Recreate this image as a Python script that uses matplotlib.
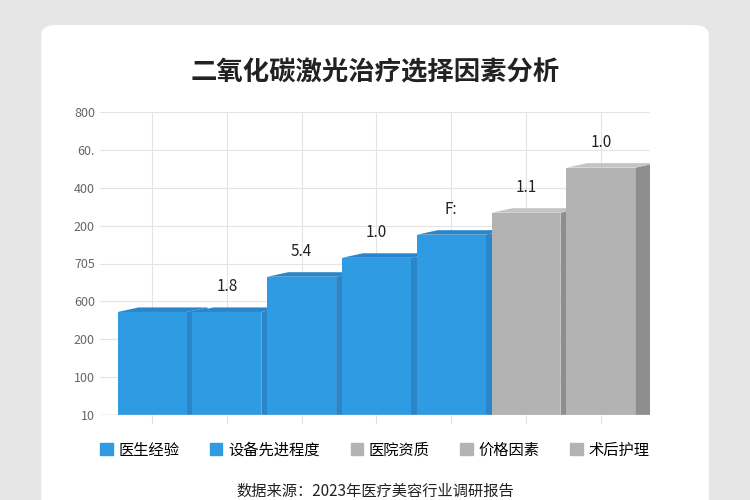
import numpy as np
import matplotlib.pyplot as plt
from matplotlib.patches import FancyBboxPatch, Polygon

plt.rcParams['font.family'] = ['Noto Sans CJK SC', 'DejaVu Sans']

# --- データ ---
values = [272, 272, 365, 415, 476, 534, 653]
labels = ['', '1.8', '5.4', '1.0', 'F:', '1.1', '1.0']
is_blue = [True, True, True, True, True, False, False]
yticks = [0, 100, 200, 300, 400, 500, 600, 700, 800]
ytick_labels = ['10', '100', '200', '600', '705', '200', '400', '60.', '800']
legend_names = ['医生经验', '设备先进程度', '医院资质', '价格因素', '术后护理']
legend_blue = [True, True, False, False, False]

blue, blue_side = '#2f9be3', '#2a86c8'
gray, gray_side = '#b3b3b3', '#8e8e8e'

fig = plt.figure(figsize=(7.5, 5), dpi=100)
fig.patch.set_facecolor('#e6e6e6')
card = FancyBboxPatch((0.055, -0.05), 0.89, 1.0, boxstyle='round,pad=0,rounding_size=0.02',
                      transform=fig.transFigure, facecolor='white', edgecolor='none',
                      zorder=-10)
fig.patches.append(card)
fig.text(0.5, 0.855, '二氧化碳激光治疗选择因素分析', ha='center', va='center',
         fontsize=19, fontweight='bold', color='#222222')

ax = fig.add_axes((0.133, 0.17, 0.733, 0.606))
ax.set_facecolor('none')
x = np.arange(len(values))
w = 0.92
dx, dy = 0.28, 12
for i, (v, b) in enumerate(zip(values, is_blue)):
    fc = blue if b else gray
    sc = blue_side if b else gray_side
    x0 = x[i] - w / 2
    x1 = x[i] + w / 2
    # 側面と上面
    ax.add_patch(Polygon([(x1, 0), (x1 + dx, 0), (x1 + dx, v + dy), (x1, v)],
                         facecolor=sc, edgecolor='none', zorder=2 + i))
    ax.add_patch(Polygon([(x0, v), (x0 + dx, v + dy), (x1 + dx, v + dy), (x1, v)],
                         facecolor=sc if b else '#c4c4c4', edgecolor='none', zorder=2 + i))
    ax.bar(x[i], v, width=w, color=fc, zorder=2 + i)
    if labels[i]:
        ax.text(x[i], v + 45, labels[i], ha='center', va='bottom', fontsize=11, color='#222222')

ax.set_xlim(-0.7, len(values) - 0.35)
ax.set_ylim(0, 800)
ax.set_yticks(yticks)
ax.set_yticklabels(ytick_labels, fontsize=9, color='#666666')
ax.set_xticks(x)
ax.set_xticklabels([])
ax.tick_params(axis='x', length=6, color='#dddddd')
ax.tick_params(axis='y', length=0)
ax.grid(True, color='#e4e4e4', linewidth=0.8, zorder=0)
ax.set_axisbelow(True)
for s in ax.spines.values():
    s.set_visible(False)
ax.axhline(0, color='#cccccc', linewidth=1, zorder=20)

handles = [plt.Rectangle((0, 0), 1, 1, color=blue if b else gray) for b in legend_blue]
fig.legend(handles, legend_names, loc='center', bbox_to_anchor=(0.5, 0.1), ncol=5,
           frameon=False, fontsize=11, handlelength=0.8, handleheight=0.8,
           columnspacing=2.0, handletextpad=0.4)
fig.text(0.5, 0.018, '数据来源：2023年医疗美容行业调研报告', ha='center', va='center',
         fontsize=11, color='#222222')

fig.savefig('out.png', dpi=100, facecolor=fig.get_facecolor())
